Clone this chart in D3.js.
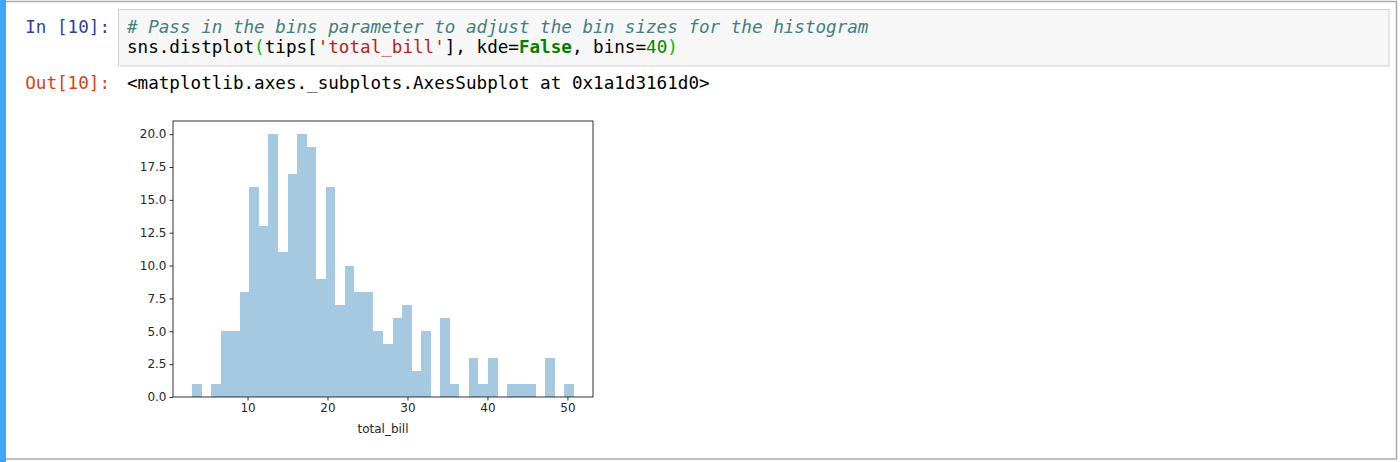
<!DOCTYPE html>
<html>
<head>
<meta charset="utf-8">
<script src="https://cdn.jsdelivr.net/npm/d3@7"></script>
<style>
html,body{margin:0;padding:0;background:#fff;}
svg{display:block;}
</style>
</head>
<body>
<svg id="c" width="1400" height="462"></svg>
<script>
// Histogram data: tips['total_bill'], 40 bins
const binMin = 3.07;
const binMax = 50.81;
const binCounts = [1,0,1,5,5,8,16,13,20,11,17,20,19,9,16,7,10,8,8,5,4,6,7,2,5,0,6,1,0,3,1,3,0,1,1,1,0,3,0,1];
const xTicks = [10,20,30,40,50];
const yTicks = [0,2.5,5,7.5,10,12.5,15,17.5,20];
const xLabel = "total_bill";
const promptIn = "In [10]:";
const promptOut = "Out[10]:";
const outText = "<matplotlib.axes._subplots.AxesSubplot at 0x1a1d3161d0>";

const svg = d3.select("#c");
const mono = "'DejaVu Sans Mono', monospace";

// notebook cell frame
svg.append("rect").attr("x",0.5).attr("y",1.5).attr("width",1396).attr("height",457.5)
  .attr("fill","#fff").attr("stroke","#ababab").attr("stroke-width",1.5);
svg.append("rect").attr("x",0).attr("y",0).attr("width",6).attr("height",462).attr("fill","#42a5f5");

// input box
svg.append("rect").attr("x",118.5).attr("y",9.5).attr("width",1270.5).attr("height",56.5)
  .attr("fill","#f7f7f7").attr("stroke","#cfcfcf").attr("stroke-width",1);

const fs = 17.6;
svg.append("text").attr("x",110).attr("y",33).attr("text-anchor","end")
  .attr("font-family",mono).attr("font-size",fs).attr("fill","#303f9f").text(promptIn);
svg.append("text").attr("x",110).attr("y",89).attr("text-anchor","end")
  .attr("font-family",mono).attr("font-size",fs).attr("fill","#d84315").text(promptOut);

const line1 = svg.append("text").attr("x",127).attr("y",33).attr("font-family",mono).attr("font-size",fs);
line1.append("tspan").attr("fill","#408080").attr("font-style","italic")
  .text("# Pass in the bins parameter to adjust the bin sizes for the histogram");

const line2 = svg.append("text").attr("x",127).attr("y",53).attr("font-family",mono).attr("font-size",fs).attr("xml:space","preserve");
const parts = [
  ["sns.distplot","#000",null],
  ["(","#00bb00",null],
  ["tips[","#000",null],
  ["'total_bill'","#ba2121",null],
  ["], kde=","#000",null],
  ["False","#008000","bold"],
  [", bins=","#000",null],
  ["40","#008800",null],
  [")","#00bb00",null]
];
parts.forEach(p => {
  const t = line2.append("tspan").attr("fill",p[1]).text(p[0]);
  if (p[2]) t.attr("font-weight",p[2]);
});
svg.append("text").attr("x",127).attr("y",89).attr("font-family",mono).attr("font-size",fs)
  .attr("fill","#000").text(outText);

// chart
const L = 173, R = 593, T = 121, B = 397;
const span = binMax - binMin;
const xs = d3.scaleLinear().domain([binMin - 0.05*span, binMax + 0.05*span]).range([L, R]);
const ys = d3.scaleLinear().domain([0, 21]).range([B, T]);
const bw = span / binCounts.length;
const bins = binCounts.map((c,i) => ({x0: binMin + i*bw, x1: binMin + (i+1)*bw, c}));

const g = svg.append("g");
g.selectAll("rect.bar").data(bins.filter(d => d.c > 0)).join("rect")
  .attr("class","bar")
  .attr("x", d => xs(d.x0))
  .attr("width", d => xs(d.x1) - xs(d.x0))
  .attr("y", d => ys(d.c))
  .attr("height", d => ys(0) - ys(d.c))
  .attr("fill","#1f77b4").attr("fill-opacity",0.4)
  .attr("shape-rendering","crispEdges");

const sans = "'DejaVu Sans', sans-serif";
const xAxis = g.append("g").attr("transform",`translate(0,${B})`)
  .call(d3.axisBottom(xs).tickValues(xTicks).tickSize(3.5).tickPadding(3).tickFormat(d3.format("d")));
const yAxis = g.append("g").attr("transform",`translate(${L},0)`)
  .call(d3.axisLeft(ys).tickValues(yTicks).tickSize(3.5).tickPadding(3).tickFormat(d3.format(".1f")));
[xAxis,yAxis].forEach(a => {
  a.select(".domain").remove();
  a.selectAll("line").attr("stroke","#000").attr("stroke-width",0.8);
  a.selectAll("text").attr("font-family",sans).attr("font-size",12).attr("fill","#262626");
});
g.append("rect").attr("x",L).attr("y",T).attr("width",R-L).attr("height",B-T)
  .attr("fill","none").attr("stroke","#000").attr("stroke-width",0.8);
g.append("text").attr("x",(L+R)/2).attr("y",433).attr("text-anchor","middle")
  .attr("font-family",sans).attr("font-size",12).attr("fill","#262626").text(xLabel);
</script>
</body>
</html>
